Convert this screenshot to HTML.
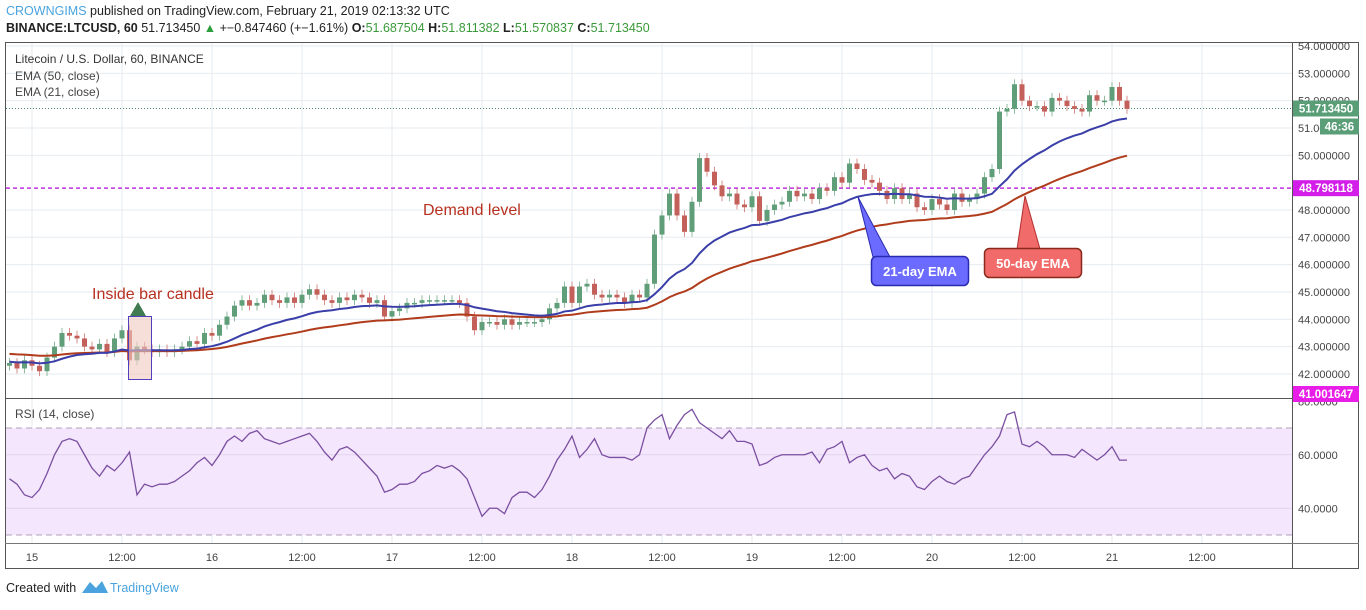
<!DOCTYPE html>
<html><head><meta charset="utf-8"><style>
body{margin:0;background:#fff;width:1366px;height:605px;overflow:hidden;font-family:"Liberation Sans",sans-serif;}
svg text{font-family:"Liberation Sans",sans-serif;}
</style></head><body>
<svg id="c" width="1366" height="605" xmlns="http://www.w3.org/2000/svg">
<text x="6" y="15" font-size="12.5"><tspan fill="#4aa3df">CROWNGIMS</tspan><tspan fill="#222"> published on TradingView.com, February 21, 2019 02:13:32 UTC</tspan></text>
<text x="6" y="32" font-size="12.5" fill="#222"><tspan font-weight="bold">BINANCE:LTCUSD, 60</tspan> 51.713450 <tspan fill="#2a9d3a">▲</tspan> +−0.847460 (+−1.61%) <tspan font-weight="bold">O:</tspan><tspan fill="#3a9a3a">51.687504</tspan> <tspan font-weight="bold">H:</tspan><tspan fill="#3a9a3a">51.811382</tspan> <tspan font-weight="bold">L:</tspan><tspan fill="#3a9a3a">51.570837</tspan> <tspan font-weight="bold">C:</tspan><tspan fill="#3a9a3a">51.713450</tspan></text>
<g id="grid"></g>
<rect x="6" y="428" width="1286" height="107" fill="#f4e6fc"/>
<g id="rsiGrid"></g>
<g id="marks"></g>
<rect x="5.5" y="42.5" width="1353" height="526" fill="none" stroke="#555"/>
<line x1="1292.5" y1="42" x2="1292.5" y2="569" stroke="#555"/>
<line x1="5" y1="398.5" x2="1359" y2="398.5" stroke="#555"/>
<line x1="5" y1="543.5" x2="1359" y2="543.5" stroke="#777"/>
<g id="axes"></g>
<text x="15" y="63" font-size="12" fill="#333">Litecoin / U.S. Dollar, 60, BINANCE</text>
<text x="15" y="80" font-size="12" fill="#444">EMA (50, close)</text>
<text x="15" y="96" font-size="12" fill="#444">EMA (21, close)</text>
<text x="15" y="418" font-size="12" fill="#444">RSI (14, close)</text>
<text x="92" y="299" font-size="16" fill="#b83020">Inside bar candle</text>
<text x="423" y="215" font-size="16" fill="#b83020">Demand level</text>
<rect x="128.5" y="316.5" width="23" height="63" fill="#f0c8c0" fill-opacity="0.6" stroke="#5040c0"/>
<polygon points="138,302 130,316 146,316" fill="#3f7a50"/>
<polygon points="858,197 873,257 890,257" fill="#6b6bff" stroke="#2a2ab0"/>
<rect x="871.5" y="256.5" width="97" height="29" rx="5" fill="#6b6bff" stroke="#2a2ab0" stroke-width="1.5"/>
<text x="920" y="276" font-size="13" font-weight="bold" fill="#fff" text-anchor="middle">21-day EMA</text>
<polygon points="1025,196 1017,249 1040,249" fill="#f26b6b" stroke="#b03030"/>
<rect x="984.5" y="248.5" width="97" height="29" rx="5" fill="#f26b6b" stroke="#8a2a1a" stroke-width="1.5"/>
<text x="1033" y="268" font-size="13" font-weight="bold" fill="#fff" text-anchor="middle">50-day EMA</text>
<text x="6" y="592" font-size="12.5" fill="#222">Created with</text>
<polygon points="82,593 90,582 96,588 102,581 108,593" fill="#4aa3df"/>
<text x="110" y="592" font-size="12.5" fill="#4aa3df">TradingView</text>
</svg>
<script>
const closes=[42.4,42.2,42.5,42.3,42.1,42.6,43.0,43.5,43.4,43.3,
43.0,42.9,43.1,42.8,43.3,43.6,42.5,43.0,42.9,42.8,
42.9,42.8,42.9,43.0,43.2,43.1,43.5,43.4,43.8,44.1,
44.5,44.7,44.5,44.6,44.9,44.7,44.6,44.8,44.6,44.9,
45.1,44.9,44.7,44.6,44.8,44.7,44.9,44.8,44.6,44.7,
44.1,44.3,44.4,44.6,44.6,44.7,44.7,44.7,44.7,44.7,
44.6,44.1,43.6,43.9,43.9,43.8,44.0,43.8,43.9,43.9,
43.9,44.0,44.4,44.6,45.2,44.6,45.2,45.3,44.9,44.8,
44.9,44.8,44.6,44.9,44.8,45.3,47.1,47.8,48.6,47.8,
47.2,48.3,49.9,49.4,48.9,48.5,48.6,48.2,48.1,48.5,
47.6,48.0,48.2,48.3,48.7,48.5,48.6,48.4,48.8,48.7,
49.2,49.0,49.7,49.5,49.1,49.0,48.7,48.4,48.8,48.4,
48.6,48.1,48.0,48.4,48.2,48.0,48.6,48.3,48.4,48.6,
49.2,49.5,51.6,51.7,52.6,52.0,51.8,51.8,51.6,52.1,
52.0,51.8,51.7,51.6,52.2,52.0,52.0,52.5,52.0,51.7];
const rsiValues=[51,49,45,44,47,53,60,65,66,65,
60,55,52,56,54,57,61,45,49,48,
49,49,50,52,54,57,59,56,60,65,
67,65,68,69,66,65,64,65,66,67,
68,65,61,58,62,63,61,58,55,52,
46,47,49,49,50,53,54,56,55,56,
54,51,44,37,40,40,38,44,46,46,
44,47,52,58,62,67,59,62,66,60,
59,59,59,58,60,70,73,75,66,71,
75,77,72,70,68,66,69,65,65,64,
56,57,59,60,60,60,60,61,57,62,
63,65,57,59,60,56,54,55,51,53,
52,48,47,50,52,50,49,51,52,56,
60,63,67,75,76,64,63,65,63,60,
60,60,59,62,60,58,60,63,58,58];
const priceTicks=[54,53,52,51,50,48,47,46,45,44,43,42];
const rsiTicks=[80,60,40];
const timeLabels=["15","12:00","16","12:00","17","12:00","18","12:00","19","12:00","20","12:00","21","12:00"];
const ema50Seed=42.75, ema21Seed=42.45;
const lastPrice=51.71345, demandLevel=48.798118;

const NS="http://www.w3.org/2000/svg";
const yP=p=>46+(54-p)*27.33;
const yR=r=>428+(70-r)*2.675;
const xI=i=>9.5+i*7.5;
const xT=k=>32+k*90;
function el(tag,attrs,parent){const e=document.createElementNS(NS,tag);for(const k in attrs)e.setAttribute(k,attrs[k]);document.getElementById(parent).appendChild(e);return e;}

for(let k=0;k<timeLabels.length;k++){
 const g=el('line',{x1:xT(k),y1:43,x2:xT(k),y2:543,stroke:'#e6ebf0'},'grid');
 
 
}
for(const p of priceTicks){
 const g=el('line',{x1:6,y1:yP(p),x2:1292,y2:yP(p),stroke:'#e6ebf0'},'grid');
 
 
}
for(const r of [60,40]){
 const g=el('line',{x1:6,y1:yR(r),x2:1292,y2:yR(r),stroke:'#e2d4ee'},'rsiGrid');
 
 
}
for(const r of [70,30]){
 const g=el('line',{x1:6,y1:yR(r),x2:1292,y2:yR(r),stroke:'#b0a0b8','stroke-dasharray':'6,4'},'rsiGrid');
 
 
}
let l=el('line',{x1:6,y1:yP(lastPrice),x2:1292,y2:yP(lastPrice),stroke:'#4a8a6a','stroke-dasharray':'1,2'},'marks');


l=el('line',{x1:6,y1:yP(demandLevel),x2:1292,y2:yP(demandLevel),stroke:'#c030e0','stroke-width':1.5,'stroke-dasharray':'4,3'},'marks');


const wick=0.18;
for(let i=0;i<closes.length;i++){
 const c=closes[i], o=i>0?closes[i-1]:c-0.1;
 const up=c>=o, col=up?'#5f9e78':'#c4605a';
 const x=xI(i);
 const w=el('line',{x1:x,y1:yP(Math.max(o,c)+wick),x2:x,y2:yP(Math.min(o,c)-wick),stroke:col,'stroke-opacity':0.7},'marks');
 
 
 const top=yP(Math.max(o,c)), h=Math.max(1.5,yP(Math.min(o,c))-top);
 const b=el('rect',{x:x-2.5,y:top,width:5,height:h,fill:col},'marks');
 
 
}
function ema(seed,n){const a=2/(n+1);let e=seed;return closes.map(c=>(e=e+a*(c-e)));}
const e50=ema(ema50Seed,50), e21=ema(ema21Seed,21);
let p=el('polyline',{points:e50.map((v,i)=>xI(i)+','+yP(v)).join(' '),fill:'none',stroke:'#b03c1c','stroke-width':2},'marks');


p=el('polyline',{points:e21.map((v,i)=>xI(i)+','+yP(v)).join(' '),fill:'none',stroke:'#3a3ea8','stroke-width':2},'marks');


p=el('polyline',{points:rsiValues.map((v,i)=>xI(i)+','+yR(v)).join(' '),fill:'none',stroke:'#7a4fa0','stroke-width':1.3},'marks');


for(const v of priceTicks){
 const t=el('text',{x:1298,y:yP(v)+4,'font-size':11,fill:'#444'},'axes');t.textContent=v.toFixed(6);
 
 
}
for(const v of rsiTicks){
 const t=el('text',{x:1298,y:yR(v)+4,'font-size':11,fill:'#444'},'axes');t.textContent=v.toFixed(4);
 
 
}
timeLabels.forEach((s,k)=>{
 const t=el('text',{x:xT(k),y:561,'font-size':11,fill:'#444','text-anchor':'middle'},'axes');t.textContent=s;
 
 
});
function tag(y,txt,bg,name,x,w){
 const r=el('rect',{x:x,y:y-8,width:w,height:16,fill:bg},'axes');
 
 
 const t=el('text',{x:x+w/2,y:y+4,'font-size':11.5,'font-weight':'bold',fill:'#fff','text-anchor':'middle'},'axes');t.textContent=txt;
 
 
}
tag(yP(lastPrice),lastPrice.toFixed(6),'#5a9e78','last-price-tag',1293,66);
tag(yP(lastPrice)+18,'46:36','#5a9e78','countdown-tag',1320,39);
tag(yP(demandLevel),demandLevel.toFixed(6),'#d21ee8','demand-level-tag',1293,66);
tag(394,'41.001647','#e81ee8','low-level-tag',1293,66);
</script>
</body></html>
